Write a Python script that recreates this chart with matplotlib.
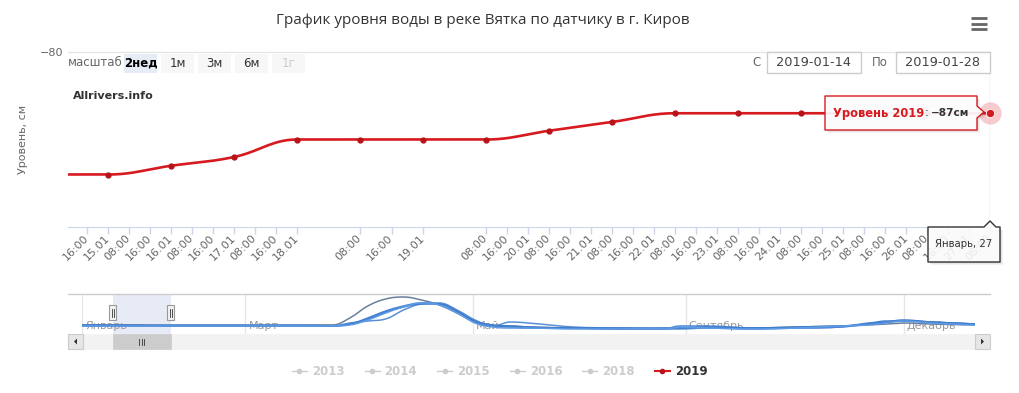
import numpy as np
import matplotlib
matplotlib.use("Agg")
import matplotlib.pyplot as plt
from matplotlib.patches import Polygon, Rectangle

plt.rcParams['font.family'] = ['DejaVu Sans']

# ---------------- data ----------------
title = "График уровня воды в реке Вятка по датчику в г. Киров"
y_label = "Уровень, см"
series_name = "Уровень 2019"
hover_value = "−87см"
hover_date = "Январь, 27"
date_from = "2019-01-14"
date_to = "2019-01-28"

# 2019 levels (cm), one per ordinal point, first point lies left of the view
levels_2019 = [-94, -94, -93, -92, -90, -90, -90, -90, -89, -88, -87, -87, -87, -87, -87, -87]

# x tick labels on the ordinal axis (position in points, label)
tick_pos = [-1/3, 0, 1/3, 2/3, 1, 4/3, 5/3, 2, 7/3, 8/3, 3, 4, 4.5, 5, 6, 19/3, 20/3,
            7, 22/3, 23/3, 8, 25/3, 26/3, 9, 28/3, 29/3, 10, 31/3, 32/3, 11, 34/3, 35/3,
            12, 37/3, 38/3, 13, 40/3, 41/3, 14]
tick_labels = ["16:00", "15.01", "08:00", "16:00", "16.01", "08:00", "16:00", "17.01", "08:00",
               "16:00", "18.01", "08:00", "16:00", "19.01", "08:00", "16:00", "20.01",
               "08:00", "16:00", "21.01", "08:00", "16:00", "22.01", "08:00", "16:00", "23.01",
               "08:00", "16:00", "24.01", "08:00", "16:00", "25.01", "08:00", "16:00", "26.01",
               "08:00", "16:00", "27.01", "08:00"]

# navigator (whole year, ordinal units 0..100)
nav_u = [0, 5, 10, 15, 20, 25, 28, 30, 32, 34, 36, 38, 40, 42, 44, 46, 48, 50, 55, 60,
         65, 67, 70, 75, 80, 85, 88, 90, 92, 95, 100]
nav_2013 = [-25, -25, -25, -25, -25, -25, -25, 150, 450, 625, 675, 600, 475, 275, 50, -50,
            -50, -75, -100, -125, -125, -100, -100, -100, -75, -50, -25, 0, 25, 0, -25]
nav_2014 = [-50, -50, -25, -25, -25, -25, -50, 25, 75, 125, 350, 500, 525, 350, 100, -50,
            50, 25, -75, -100, -125, -125, -100, -125, -100, -75, 25, 50, 75, 50, 0]
nav_2015 = [-50, -50, -50, -50, -50, -50, -50, 0, 150, 325, 450, 525, 500, 300, 50, -50,
            -75, -100, -100, -125, -125, -50, -50, -100, -100, -75, 0, 75, 75, 50, 0]
nav_2016 = [-25, -25, -50, -50, -50, -50, -50, 0, 125, 300, 425, 500, 500, 325, 75, -25,
            -50, -75, -100, -100, -100, -100, -75, -100, -75, -50, 0, 50, 100, 50, 0]
nav_2018 = [-50, -50, -50, -50, -50, -50, -50, -25, 100, 275, 425, 525, 475, 275, 25, -75,
            -100, -100, -125, -125, -125, -75, -100, -125, -100, -50, -25, 25, 75, 25, -25]
nav_months = ["Январь", "Март", "Май", "Сентябрь", "Декабрь"]
nav_month_u = [0, 18.3, 43.8, 67.6, 92.0]
nav_selection = (3.5, 10.0)

legend_years = ["2013", "2014", "2015", "2016", "2018", "2019"]
range_buttons = ["2нед", "1м", "3м", "6м", "1г"]

# ---------------- helpers ----------------
W, H = 1019, 393
RED = '#d61a20'


def hc_spline(xs, ys, n=30):
    pts = list(zip(xs, ys))
    N = len(pts)
    lc = [None] * N
    rc = [None] * N
    for i in range(1, N - 1):
        x, y = pts[i]
        px, py = pts[i - 1]
        nx, ny = pts[i + 1]
        lcx = (1.5 * x + px) / 2.5
        lcy = (1.5 * y + py) / 2.5
        rcx = (1.5 * x + nx) / 2.5
        rcy = (1.5 * y + ny) / 2.5
        if rcx != lcx:
            corr = ((rcy - lcy) * (rcx - x)) / (rcx - lcx) + y - rcy
            lcy += corr
            rcy += corr
        if lcy > py and lcy > y:
            lcy = max(py, y); rcy = 2 * y - lcy
        elif lcy < py and lcy < y:
            lcy = min(py, y); rcy = 2 * y - lcy
        if rcy > ny and rcy > y:
            rcy = max(ny, y); lcy = 2 * y - rcy
        elif rcy < ny and rcy < y:
            rcy = min(ny, y); lcy = 2 * y - rcy
        lc[i] = (lcx, lcy)
        rc[i] = (rcx, rcy)
    ox, oy = [pts[0][0]], [pts[0][1]]
    t = np.linspace(0, 1, n)[1:]
    for i in range(1, N):
        p0 = np.array(pts[i - 1]); p3 = np.array(pts[i])
        p1 = np.array(rc[i - 1]) if rc[i - 1] is not None else p0
        p2 = np.array(lc[i]) if lc[i] is not None else p3
        b = ((1 - t) ** 3)[:, None] * p0 + (3 * (1 - t) ** 2 * t)[:, None] * p1 + \
            (3 * (1 - t) * t ** 2)[:, None] * p2 + (t ** 3)[:, None] * p3
        ox.extend(b[:, 0]); oy.extend(b[:, 1])
    return np.array(ox), np.array(oy)


fig = plt.figure(figsize=(W / 100, H / 100), dpi=100)
fig.patch.set_facecolor('white')


def px_axes(l, t, r, b, **kw):
    return fig.add_axes([l / W, 1 - b / H, (r - l) / W, (b - t) / H], **kw)


# ---------------- main chart ----------------
ax = px_axes(68, 52, 990, 227)
ax.set_facecolor('white')
x_idx = np.arange(len(levels_2019)) - 1
ax.set_xlim(-0.635, 14.0)
ax.set_ylim(-100, -80)
for s in ['top', 'left', 'right']:
    ax.spines[s].set_visible(False)
ax.spines['bottom'].set_color('#ccd6eb')
ax.axhline(-80, color='#e6e6e6', lw=1, clip_on=False, zorder=1)
ax.set_yticks([-80])
ax.set_yticklabels(['−80'])
ax.tick_params(axis='y', length=0, labelsize=8, labelcolor='#666666', pad=3)
ax.set_xticks(tick_pos)
ax.set_xticklabels(tick_labels, rotation=45, ha='right', va='center', rotation_mode='anchor')
ax.tick_params(axis='x', length=5, width=1, color='#ccd6eb', labelsize=8, labelcolor='#666666', pad=2)
ax.set_ylabel(y_label, fontsize=8, color='#666666', labelpad=9)

sx, sy = hc_spline(x_idx, levels_2019)
ax.plot(sx, sy, color=RED, lw=1.9, solid_capstyle='round', zorder=3)
ax.plot(x_idx, levels_2019, 'o', color='#b8121a', ms=3.5, zorder=4)
ax.axvline(x_idx[-1], color='#cccccc', lw=1, zorder=2)
ax.plot([x_idx[-1]], [levels_2019[-1]], 'o', color=RED, alpha=0.22, ms=16, mec='none', clip_on=False, zorder=5)
ax.plot([x_idx[-1]], [levels_2019[-1]], 'o', color=RED, ms=6, mec='white', mew=0.6, clip_on=False, zorder=6)

# ---------------- navigator ----------------
nav = px_axes(82, 294, 975, 334)
nav.set_xlim(0, 100)
nav.set_ylim(-250, 750)
nav.set_xticks([]); nav.set_yticks([])
for s in nav.spines.values():
    s.set_visible(False)
for u, m in zip(nav_month_u, nav_months):
    nav.axvline(u, color='#e6e6e6', lw=1, zorder=1)
    nav.text(u + 0.35, -60, m, fontsize=8, color='#999999', ha='left', va='center', zorder=1)
nav.axvspan(*nav_selection, color=(102 / 255, 133 / 255, 194 / 255), alpha=0.16, lw=0, zorder=0)
nav_colors = ['#6a7f9c', '#5a8fd6', '#4a86d8', '#3f7cc9', '#5d9be6']
for vals, c in zip([nav_2013, nav_2014, nav_2015, nav_2016, nav_2018], nav_colors):
    nx_, ny_ = hc_spline(nav_u, vals)
    nav.plot(nx_, ny_, color=c, lw=1.1, zorder=3)

# ---------------- UI overlay ----------------
ui = fig.add_axes([0, 0, 1, 1], zorder=10)
ui.set_xlim(0, W); ui.set_ylim(H, 0); ui.axis('off')

ui.text(483, 20, title, fontsize=11, color='#333333', ha='center', va='center',
        family=['Open Sans', 'DejaVu Sans'])
for yy in (18, 23.5, 29):
    ui.plot([971, 987], [yy, yy], color='#666666', lw=2.0, solid_capstyle='butt')

# range selector
ui.text(68, 63, "масштаб", fontsize=8.5, color='#666666', ha='left', va='center')
for i, lab in enumerate(range_buttons):
    x0 = 124 + 37 * i
    sel = (i == 0)
    dis = (i == len(range_buttons) - 1)
    ui.add_patch(Rectangle((x0, 54), 33, 19, facecolor='#e6ebf5' if sel else '#f7f7f7', edgecolor='none'))
    ui.text(x0 + 16.5, 63.5, lab, fontsize=8.5, ha='center', va='center',
            color='#000000' if sel else ('#cccccc' if dis else '#333333'),
            fontweight='bold' if sel else 'normal')

# date inputs
ui.text(757, 62, "С", fontsize=8.5, color='#666666', ha='center', va='center')
ui.add_patch(Rectangle((767, 52), 94, 21, facecolor='white', edgecolor='#cccccc', lw=1))
ui.text(814, 62.5, date_from, fontsize=9.3, color='#444444', ha='center', va='center')
ui.text(880, 62, "По", fontsize=8.5, color='#666666', ha='center', va='center')
ui.add_patch(Rectangle((896, 52), 94, 21, facecolor='white', edgecolor='#cccccc', lw=1))
ui.text(943, 62.5, date_to, fontsize=9.3, color='#444444', ha='center', va='center')

ui.text(73, 96, "Allrivers.info", fontsize=8, fontweight='bold', color='#333333', ha='left', va='center')

# main tooltip
tip = [(825, 96), (977, 96), (977, 106), (984, 112), (977, 118), (977, 130), (825, 130)]
for k in range(1, 4):
    ui.add_patch(Polygon([(a + k, b + k) for a, b in tip], closed=True, facecolor='black',
                         alpha=0.05, edgecolor='none'))
ui.add_patch(Polygon(tip, closed=True, facecolor=(1, 1, 1, 0.92), edgecolor=RED, lw=1, joinstyle='round'))
t1 = ui.text(833, 113, series_name, fontsize=8.3, fontweight='bold', color=RED, ha='left', va='center')
fig.canvas.draw()
bb = t1.get_window_extent()
xe = ui.transData.inverted().transform((bb.x1, bb.y0))[0]
ui.text(xe, 113, ":", fontsize=8.3, color='#333333', ha='left', va='center')
ui.text(xe + 7, 113, hover_value, fontsize=7.6, fontweight='bold', color='#333333', ha='left', va='center')

# bottom date tooltip
tip2 = [(928, 227), (984, 227), (990, 221), (996, 227), (1000, 227), (1000, 262), (928, 262)]
for k in range(1, 4):
    ui.add_patch(Polygon([(a + k, b + k) for a, b in tip2], closed=True, facecolor='black',
                         alpha=0.05, edgecolor='none'))
ui.add_patch(Polygon(tip2, closed=True, facecolor=(1, 1, 1, 0.88), edgecolor='#333333', lw=1, joinstyle='round'))
ui.text(964, 244, hover_date, fontsize=7.3, color='#333333', ha='center', va='center')

# navigator chrome
ui.plot([68, 990], [294, 294], color='#cccccc', lw=1)
for hx in (113, 171):
    ui.add_patch(Rectangle((hx - 3.5, 305), 7, 15, facecolor='#f2f2f2', edgecolor='#999999', lw=0.8))
    ui.plot([hx - 1, hx - 1], [308.5, 316.5], color='#333333', lw=0.6)
    ui.plot([hx + 1, hx + 1], [308.5, 316.5], color='#333333', lw=0.6)

# scrollbar
ui.add_patch(Rectangle((68, 334), 922, 15, facecolor='#f2f2f2', edgecolor='#f2f2f2', lw=0.5))
ui.add_patch(Rectangle((113, 334), 58, 15, facecolor='#cccccc', edgecolor='#cccccc', lw=0.5))
for gx in (139.5, 142, 144.5):
    ui.plot([gx, gx], [338.5, 344.5], color='#333333', lw=0.6)
for bx in (68, 975):
    ui.add_patch(Rectangle((bx, 334), 15, 15, facecolor='#e6e6e6', edgecolor='#cccccc', lw=0.8))
ui.add_patch(Polygon([(77, 338.5), (77, 344.5), (74, 341.5)], closed=True, facecolor='#333333', edgecolor='none'))
ui.add_patch(Polygon([(981, 338.5), (981, 344.5), (984, 341.5)], closed=True, facecolor='#333333', edgecolor='none'))

# legend
for i, yr in enumerate(legend_years):
    x0 = 292 + 72.6 * i
    active = (yr == "2019")
    col = RED if active else '#cccccc'
    ui.plot([x0, x0 + 15], [371, 371], color=col, lw=1.5 if active else 1)
    ui.plot([x0 + 7.5], [371], 'o', color='#b8121a' if active else '#cccccc', ms=3)
    ui.text(x0 + 20, 371.5, yr, fontsize=8.5, fontweight='bold',
            color='#333333' if active else '#cccccc', ha='left', va='center')

fig.savefig('out.png', dpi=100, facecolor='white')
